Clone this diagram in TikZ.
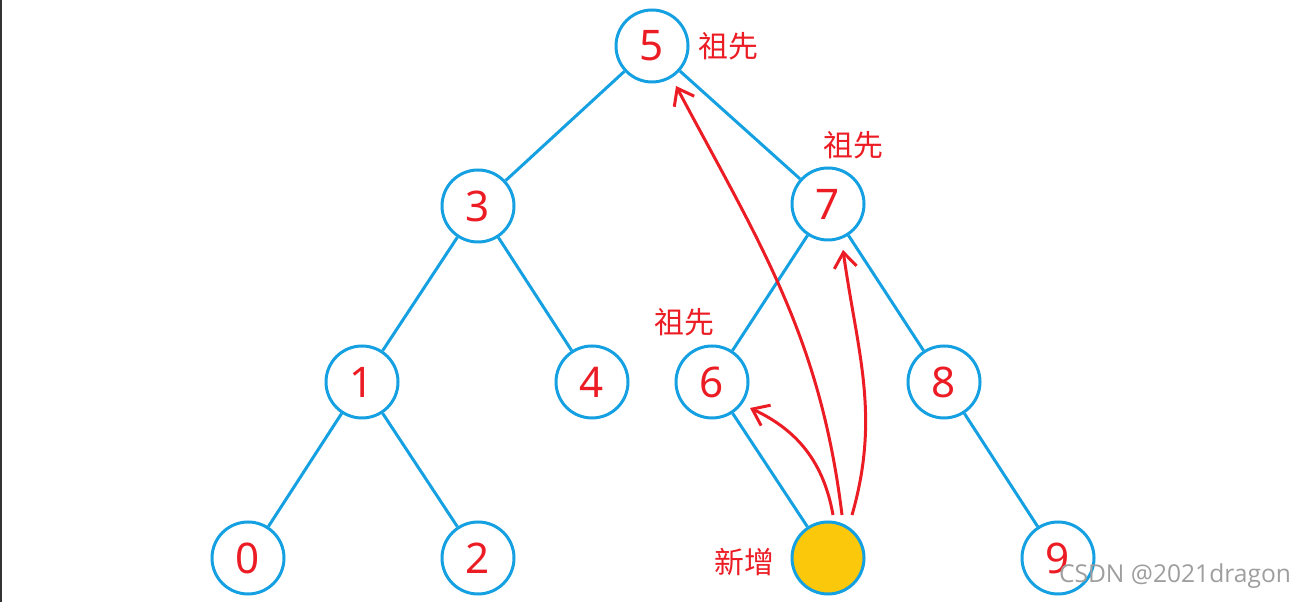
\documentclass[tikz,border=0pt]{standalone}
\usepackage{fontspec}
\setmainfont{Noto Sans}
\newfontfamily\cjk{Noto Sans CJK SC}
\newfontfamily\wmfont{Open Sans}
\usetikzlibrary{arrows.meta}
\definecolor{treeblue}{RGB}{20,160,225}
\definecolor{numred}{RGB}{236,28,36}
\definecolor{newyellow}{RGB}{252,200,12}
\begin{document}
\begin{tikzpicture}[x=1cm,y=1cm,
  keynode/.style={circle,draw=treeblue,line width=0.06cm,minimum size=1.44cm,inner sep=0pt,
    text=numred,font=\fontsize{24}{24}\selectfont},
  newnode/.style={keynode,fill=newyellow},
  treeline/.style={draw=treeblue,line width=0.06cm},
  uparrow/.style={draw=numred,line width=0.06cm,-{Straight Barb[length=3mm,width=4.5mm]}},
  tag/.style={text=numred,font=\cjk\fontsize{17}{17}\selectfont}]
\useasboundingbox (0,0) rectangle (25.9,12.04);
\draw[black!80,line width=0.04cm] (0.02,0) -- (0.02,12.04);

% keys
\node[keynode] (n5) at (13.04,11.12) {5};
\node[keynode] (n3) at (9.56,7.92) {3};
\node[keynode] (n7) at (16.56,7.96) {7};
\node[keynode] (n1) at (7.24,4.40) {1};
\node[keynode] (n4) at (11.84,4.40) {4};
\node[keynode] (n6) at (14.24,4.40) {6};
\node[keynode] (n8) at (18.88,4.40) {8};
\node[keynode] (n0) at (4.96,0.88) {0};
\node[keynode] (n2) at (9.56,0.88) {2};
\node[newnode] (nnew) at (16.56,0.88) {};
\node[keynode] (n9) at (21.16,0.88) {9};

\draw[treeline] (n5) -- (n3);
\draw[treeline] (n5) -- (n7);
\draw[treeline] (n3) -- (n1);
\draw[treeline] (n3) -- (n4);
\draw[treeline] (n7) -- (n6);
\draw[treeline] (n7) -- (n8);
\draw[treeline] (n1) -- (n0);
\draw[treeline] (n1) -- (n2);
\draw[treeline] (n6) -- (nnew);
\draw[treeline] (n8) -- (n9);

% labels
\node[tag] (t5) at (14.56,11.12) {祖先};
\node[tag] (t7) at (17.06,9.14) {祖先};
\node[tag] (t6) at (13.68,5.60) {祖先};
\node[tag] (tnew) at (14.88,0.80) {新增};

% ancestors
\coordinate (s6) at (16.66,1.74);
\coordinate (s5) at (16.84,1.74);
\coordinate (s7) at (17.04,1.74);
\draw[uparrow] (s6) to[out=100,in=-25] (15.00,3.88);
\draw[uparrow] (s7) to[out=74,in=-82] (16.86,7.04);
\draw[uparrow] (s5) to[out=97,in=-62] (13.52,10.32);

\node[text=black!38,font=\wmfont\fontsize{14}{14}\selectfont] (wm) at (23.50,0.52) {CSDN @2021dragon};
\end{tikzpicture}
\end{document}
